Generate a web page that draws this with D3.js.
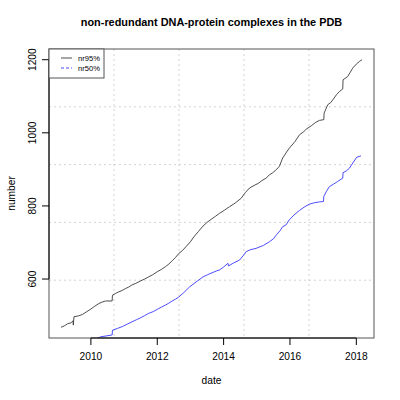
<!DOCTYPE html>
<html><head><meta charset="utf-8">
<script src="https://cdn.jsdelivr.net/npm/d3@7"></script>
<style>
html,body{margin:0;padding:0;background:#fff;}
text{font-family:"Liberation Sans",Arial,Helvetica,sans-serif;}
</style></head>
<body><svg id="c" width="400" height="400"></svg>
<script>
const titleText = "non-redundant DNA-protein complexes in the PDB";
const xLabel = "date";
const yLabel = "number";
const seriesNames = ["nr95%", "nr50%"];
const xTicks = [2010, 2012, 2014, 2016, 2018];
const yTicks = [600, 800, 1000, 1200];

const dates95 = [2009.10, 2009.20, 2009.30, 2009.40, 2009.46, 2009.47, 2009.49, 2009.62, 2009.74, 2009.88, 2010.00, 2010.12, 2010.24, 2010.34, 2010.44, 2010.64, 2010.65, 2010.75, 2010.84, 2010.95, 2011.04, 2011.14, 2011.24, 2011.35, 2011.50, 2011.62, 2011.74, 2011.85, 2012.00, 2012.12, 2012.25, 2012.35, 2012.45, 2012.55, 2012.65, 2012.76, 2012.88, 2013.00, 2013.10, 2013.24, 2013.38, 2013.50, 2013.65, 2013.76, 2013.88, 2014.02, 2014.18, 2014.35, 2014.53, 2014.65, 2014.78, 2014.92, 2015.05, 2015.15, 2015.28, 2015.38, 2015.47, 2015.55, 2015.68, 2015.78, 2015.88, 2015.98, 2016.15, 2016.29, 2016.40, 2016.49, 2016.64, 2016.78, 2016.89, 2017.02, 2017.03, 2017.14, 2017.22, 2017.29, 2017.40, 2017.49, 2017.59, 2017.60, 2017.74, 2017.82, 2017.89, 2018.00, 2018.09, 2018.17];
const values95 = [468, 472, 478, 480, 486, 474, 497, 499, 503, 511, 518, 526, 533, 537, 540, 540, 556, 561, 565, 569, 574, 578, 584, 588, 595, 600, 606, 611, 620, 626, 634, 641, 650, 659, 670, 678, 690, 702, 715, 730, 745, 755, 765, 772, 780, 788, 798, 808, 821, 836, 849, 856, 862, 869, 876, 885, 890, 896, 908, 931, 945, 958, 976, 995, 1002, 1010, 1019, 1029, 1034, 1036, 1054, 1077, 1082, 1090, 1104, 1113, 1120, 1145, 1154, 1166, 1177, 1188, 1195, 1200];

const dates50 = [2010.02, 2010.30, 2010.64, 2010.65, 2010.80, 2010.95, 2011.10, 2011.24, 2011.38, 2011.50, 2011.62, 2011.74, 2011.88, 2012.00, 2012.12, 2012.25, 2012.35, 2012.45, 2012.55, 2012.65, 2012.80, 2012.98, 2013.20, 2013.38, 2013.52, 2013.65, 2013.78, 2013.88, 2014.00, 2014.13, 2014.15, 2014.30, 2014.48, 2014.60, 2014.68, 2014.80, 2014.98, 2015.20, 2015.38, 2015.50, 2015.60, 2015.70, 2015.78, 2015.88, 2015.98, 2016.12, 2016.29, 2016.45, 2016.59, 2016.75, 2016.89, 2017.01, 2017.02, 2017.10, 2017.19, 2017.32, 2017.44, 2017.59, 2017.60, 2017.70, 2017.79, 2017.90, 2018.01, 2018.14];
const values50 = [432, 442, 447, 460, 465, 470, 477, 483, 489, 494, 500, 506, 511, 517, 523, 529, 534, 540, 545, 551, 563, 579, 594, 606, 612, 617, 622, 625, 633, 643, 636, 644, 652, 665, 675, 680, 684, 692, 702, 710, 722, 732, 743, 748, 762, 775, 788, 798, 805, 809, 811, 812, 826, 840, 853, 860, 867, 876, 891, 896, 903, 918, 933, 937];

const L = 49, R = 374, T = 49, B = 338;
const svg = d3.select("#c");

const xExt = d3.extent(dates95);
const xPad = (xExt[1] - xExt[0]) * 0.04;
const yExt = d3.extent(values95);
const yPad = (yExt[1] - yExt[0]) * 0.04;
const x = d3.scaleLinear().domain([xExt[0] - xPad, xExt[1] + xPad]).range([L, R]);
const y = d3.scaleLinear().domain([yExt[0] - yPad, yExt[1] + yPad]).range([B, T]);

// grid (5x5 like R grid())
const g = svg.append("g").attr("stroke", "#d3d3d3").attr("stroke-width", 1).attr("stroke-dasharray", "2,3");
for (let i = 1; i < 5; i++) {
  const gx = L + (R - L) * i / 5;
  const gy = T + (B - T) * i / 5;
  g.append("line").attr("x1", gx).attr("x2", gx).attr("y1", T).attr("y2", B);
  g.append("line").attr("x1", L).attr("x2", R).attr("y1", gy).attr("y2", gy);
}

svg.append("defs").append("clipPath").attr("id", "clip")
  .append("rect").attr("x", L).attr("y", T).attr("width", R - L).attr("height", B - T);

const line = d3.line().x(d => x(d[0])).y(d => y(d[1]));
const d95 = dates95.map((d, i) => [d, values95[i]]);
const d50 = dates50.map((d, i) => [d, values50[i]]);
const lines = svg.append("g").attr("clip-path", "url(#clip)");
lines.append("path").attr("d", line(d95)).attr("fill", "none").attr("stroke", "#3a3a3a").attr("stroke-width", 0.9);
lines.append("path").attr("d", line(d50)).attr("fill", "none").attr("stroke", "#3838ff").attr("stroke-width", 0.9);

// box
svg.append("rect").attr("x", L).attr("y", T).attr("width", R - L).attr("height", B - T)
  .attr("fill", "none").attr("stroke", "#555").attr("stroke-width", 1);

// x axis (R style: line from first to last tick)
const xa = svg.append("g").attr("stroke", "#000").attr("stroke-width", 1);
xa.append("line").attr("x1", x(xTicks[0])).attr("x2", x(xTicks[xTicks.length - 1])).attr("y1", B).attr("y2", B);
xTicks.forEach(t => {
  xa.append("line").attr("x1", x(t)).attr("x2", x(t)).attr("y1", B).attr("y2", B + 7);
  svg.append("text").attr("x", x(t)).attr("y", 360).attr("text-anchor", "middle")
    .attr("font-size", 10.2).attr("fill", "#000").text(t);
});
const ya = svg.append("g").attr("stroke", "#000").attr("stroke-width", 1);
ya.append("line").attr("x1", L).attr("x2", L).attr("y1", y(yTicks[0])).attr("y2", y(yTicks[yTicks.length - 1]));
yTicks.forEach(t => {
  ya.append("line").attr("x1", L - 7).attr("x2", L).attr("y1", y(t)).attr("y2", y(t));
  svg.append("text").attr("transform", `translate(36,${y(t)}) rotate(-90)`).attr("text-anchor", "middle")
    .attr("font-size", 10.2).attr("fill", "#000").text(t);
});

// labels
svg.append("text").attr("x", (L + R) / 2).attr("y", 384).attr("text-anchor", "middle")
  .attr("font-size", 10.2).text(xLabel);
svg.append("text").attr("transform", `translate(15,${(T + B) / 2}) rotate(-90)`).attr("text-anchor", "middle")
  .attr("font-size", 10.2).text(yLabel);
svg.append("text").attr("x", (L + R) / 2).attr("y", 26).attr("text-anchor", "middle")
  .attr("font-size", 10.9).attr("font-weight", "bold").text(titleText);

// legend
const lg = svg.append("g");
lg.append("rect").attr("x", L).attr("y", T).attr("width", 55).attr("height", 29)
  .attr("fill", "#fff").attr("stroke", "#555").attr("stroke-width", 1);
const legColors = ["#3a3a3a", "#3838ff"];
const legDash = [null, "3,2"];
seriesNames.forEach((n, i) => {
  const ly = 58 + i * 10;
  lg.append("line").attr("x1", 61).attr("x2", 72).attr("y1", ly).attr("y2", ly)
    .attr("stroke", legColors[i]).attr("stroke-width", 0.9).attr("stroke-dasharray", legDash[i]);
  lg.append("text").attr("x", 78).attr("y", ly + 2.7).attr("font-size", 7.6).attr("fill", "#000").text(n);
});
</script></body></html>
